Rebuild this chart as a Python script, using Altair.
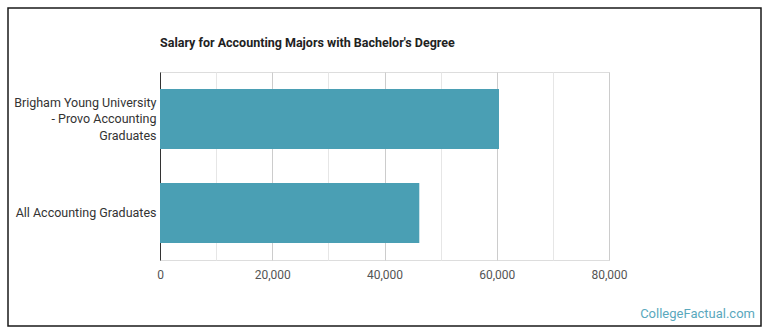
import altair as alt
import pandas as pd

categories = ["Brigham Young University|- Provo Accounting|Graduates", "All Accounting Graduates"]
salaries = [60400, 46200]
tick_values = [0, 10000, 20000, 30000, 40000, 50000, 60000, 70000, 80000]
title_text = "Salary for Accounting Majors with Bachelor's Degree"
watermark = ["CollegeFactual.com"]

df = pd.DataFrame({"category": categories, "salary": salaries})
wm = pd.DataFrame({"t": watermark})

FONT = "Roboto"

bars = alt.Chart(df).mark_bar(color="#4a9fb4", size=60).encode(
    x=alt.X("salary:Q",
            scale=alt.Scale(domain=[0, 80000], nice=False),
            axis=alt.Axis(values=tick_values, title=None, domain=False, ticks=False,
                          format=",.0f", labelFlush=False,
                          labelExpr="datum.value % 20000 === 0 ? datum.label : ''",
                          labelFont=FONT, labelFontSize=12, labelColor="#555555",
                          labelPadding=9,
                          gridColor={"condition": {"test": "datum.value % 20000 === 0", "value": "#cccccc"}, "value": "#e6e6e6"},
                          gridWidth=1)),
    y=alt.Y("category:N", sort=None,
            axis=alt.Axis(title=None, ticks=False, grid=False, domain=True,
                          domainColor="#333333", domainWidth=1,
                          labelExpr="split(datum.label, '|')",
                          labelOffset={"condition": {"test": "indexof(datum.label, '|') >= 0", "value": -16.5}, "value": 0},
                          labelFont=FONT, labelFontSize=12.5, labelColor="#333333",
                          labelLineHeight=16.5, labelPadding=4, labelLimit=200)),
)

wm_text = alt.Chart(wm).mark_text(align="right", baseline="alphabetic", font=FONT,
                                  fontSize=13, color="#5aa8bd").encode(
    x=alt.value(595), y=alt.value(246), text="t:N")

border = alt.Chart(wm).mark_rect(fill=None, stroke="#1a1a1a", strokeWidth=1.5).encode(
    x=alt.value(-152), x2=alt.value(601), y=alt.value(-64), y2=alt.value(254))

chart = alt.layer(bars, wm_text, border).properties(
    width=449, height=188,
    title=alt.TitleParams(title_text, anchor="start", frame="group", font=FONT, fontSize=12.5,
                          fontWeight="bold", color="#222222", offset=-42),
    autosize=alt.AutoSizeParams(type="none"),
    padding={"left": 160, "top": 72, "right": 161, "bottom": 75},
).configure_view(stroke=None).configure(background="white")

chart.save("out.html", embed_options={"renderer": "svg", "actions": False})
